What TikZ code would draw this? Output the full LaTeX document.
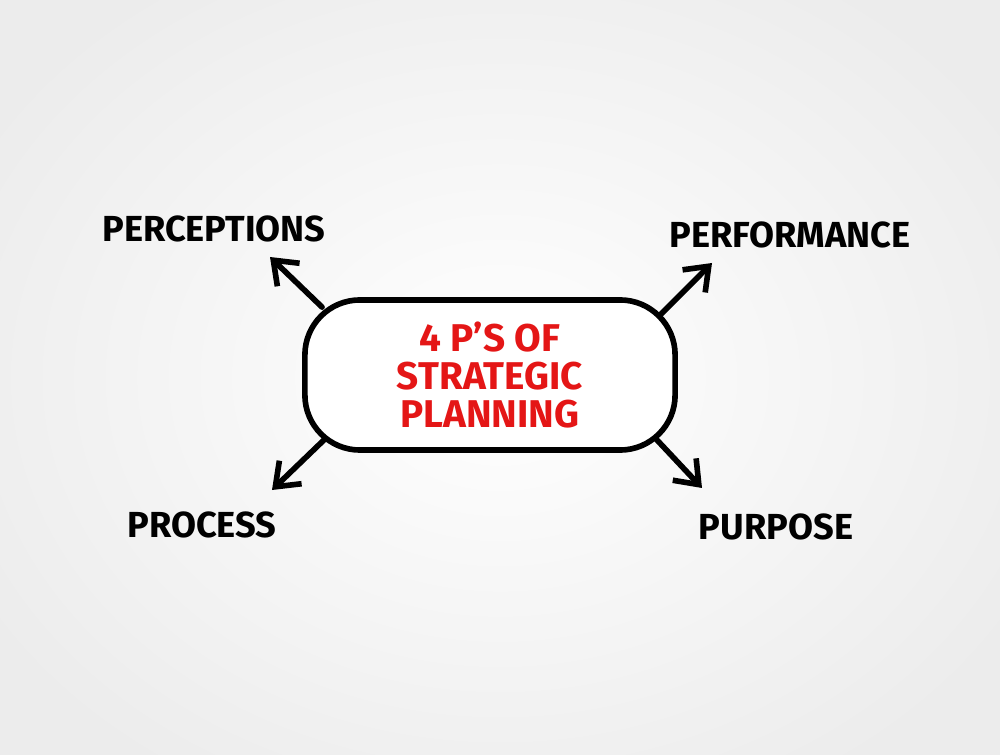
\documentclass[tikz,border=0pt]{standalone}
\usepackage{fontspec}
\setmainfont{Fira Sans}
\usepackage{tikz}
\usetikzlibrary{arrows.meta, calc}
\definecolor{titlered}{RGB}{228,22,22}
\definecolor{bggray}{RGB}{236,236,236}
\tikzstyle{hub} = [rectangle, rounded corners=0.55cm, minimum width=3.7cm, minimum height=1.5cm, text centered, draw=black, line width=1.6pt, fill=white, align=center, text=titlered, font=\fontsize{11}{10.9}\selectfont\bfseries]
\tikzstyle{label} = [inner sep=0pt, text=black, font=\fontsize{10.3}{12}\selectfont\bfseries]
\tikzstyle{arrow} = [line width=1.6pt, line cap=round, -{Straight Barb[length=0.21cm, width=0.32cm]}]

\begin{document}
\begin{tikzpicture}[x=0.01cm, y=-0.01cm]
        \useasboundingbox (0,0) rectangle (1000,755);
        \clip (0,0) rectangle (1000,755);
        \fill [inner color=white, outer color=bggray] (-100,-100) rectangle (1100,855);
        \node (plan) [hub] at (490,375) {4 P'S OF\\STRATEGIC\\PLANNING};
        \node (perceptions) [label] at (214,229) {PERCEPTIONS};
        \node (performance) [label] at (790,235) {PERFORMANCE};
        \node (process) [label] at (202,525) {PROCESS};
        \node (purpose) [label] at (776,527) {PURPOSE};
        \coordinate (to_perceptions) at (270,257);
        \coordinate (to_performance) at (712,263);
        \coordinate (to_process) at (272,490);
        \coordinate (to_purpose) at (702,488);
        
        \draw [arrow] ($(plan.north west)+(20,10)$) -- (to_perceptions);
        \draw [arrow] ($(plan.north east)+(-17,17)$) -- (to_performance);
        \draw [arrow] ($(plan.south west)+(22,-13)$) -- (to_process);
        \draw [arrow] ($(plan.south east)+(-22,-14)$) -- (to_purpose);
    \end{tikzpicture}
\end{document}
